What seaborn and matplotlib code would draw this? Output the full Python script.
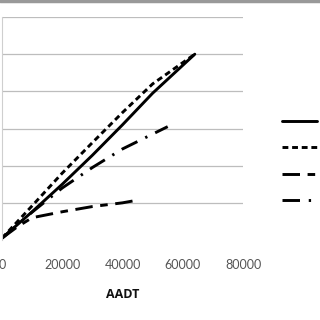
import matplotlib
matplotlib.use("Agg")
import matplotlib.pyplot as plt
import pandas as pd
import seaborn as sns

# datos (eje y sin etiquetas: unidades de la rejilla)
aadt_solido = [0, 10000, 20000, 30000, 40000, 50000, 64000]
y_solido = [0.05, 0.76, 1.5, 2.28, 3.1, 3.95, 5.0]

aadt_guiones = [0, 10000, 20000, 30000, 40000, 50000, 64000]
y_guiones = [0.05, 0.92, 1.8, 2.62, 3.43, 4.2, 5.0]

aadt_raya = [0, 5000, 10000, 20000, 30000, 40000, 45500]
y_raya = [0.05, 0.35, 0.6, 0.76, 0.9, 1.0, 1.08]

aadt_punto = [0, 10000, 20000, 30000, 40000, 55000]
y_punto = [0.05, 0.75, 1.4, 1.95, 2.45, 3.05]

nombres = ["Study", "HERS", "TTI", "HCM"]

frames = []
for nombre, xs, ys in zip(nombres,
                          [aadt_solido, aadt_guiones, aadt_raya, aadt_punto],
                          [y_solido, y_guiones, y_raya, y_punto]):
    frames.append(pd.DataFrame({"AADT": xs, "valor": ys, "serie": nombre}))
datos = pd.concat(frames, ignore_index=True)

sns.set_style("white")
plt.rcParams['font.family'] = ['Lato', 'DejaVu Sans']

fig = plt.figure(figsize=(3.2, 3.2), dpi=100)
ax = fig.add_axes([2 / 320, 80 / 320, 241 / 320, 223 / 320])

estilos = {"Study": "", "HERS": (2.0, 1.3), "TTI": (6, 2.6, 2.6, 2.6), "HCM": (6, 3, 0.8, 3)}
sns.lineplot(data=datos, x="AADT", y="valor", hue="serie", style="serie",
             palette=["black"] * 4, dashes=estilos, linewidth=2.1, ax=ax, legend=False)

ax.set_xlim(0, 80000)
ax.set_ylim(0, 6)
ax.set_xticks([0, 20000, 40000, 60000, 80000])
ax.set_xticklabels(["0", "20000", "40000", "60000", "80000"])
ax.set_yticks([1, 2, 3, 4, 5, 6])
ax.set_yticklabels([])
ax.grid(axis="y", color="#bdbdbd", linewidth=0.9)
ax.grid(axis="x", visible=False)
for lado in ["top", "right", "bottom"]:
    ax.spines[lado].set_visible(False)
ax.spines["left"].set_color("#cfcfcf")
ax.tick_params(axis="x", colors="#555555", labelsize=9, length=0, pad=14)
ax.tick_params(axis="y", length=0)
ax.set_xlabel("AADT", fontsize=9, fontweight="bold", labelpad=12, color="#111111",
              family=["Open Sans", "DejaVu Sans"])
ax.set_ylabel("")

# leyenda cortada por el borde derecho
handles = ax.get_lines()[:4]
leg = fig.legend(handles, nombres, loc="upper left", bbox_to_anchor=(271 / 320, 1 - 104 / 320),
                 frameon=False, fontsize=9, handlelength=2.8, labelspacing=1.15,
                 handletextpad=0.2)
for t in leg.get_texts():
    t.set_color("#555555")

# borde gris superior
fig.add_artist(plt.Line2D([0, 1], [0.996, 0.996], color="#999999", linewidth=2.5,
                          transform=fig.transFigure))

fig.savefig("out.png", dpi=100)
